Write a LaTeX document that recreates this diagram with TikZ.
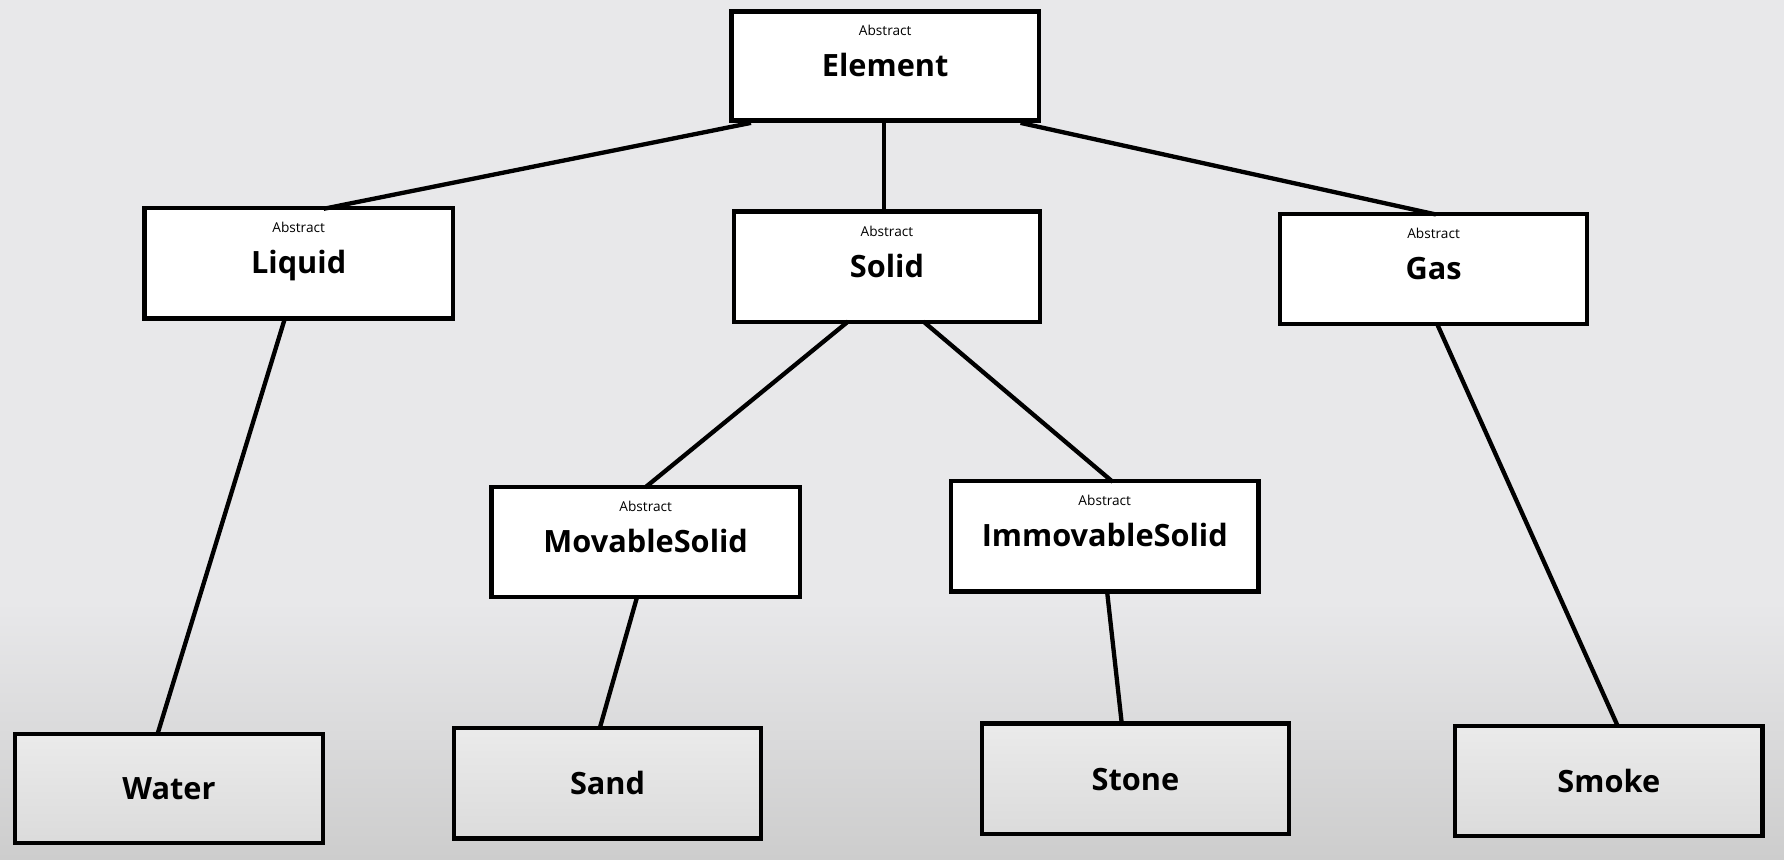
\documentclass[tikz,border=0pt]{standalone}
\usepackage{fontspec}
\setmainfont{Open Sans}
\usetikzlibrary{calc}
\definecolor{bg}{RGB}{232,232,234}
\definecolor{bgb}{RGB}{205,205,205}
\begin{document}
\begin{tikzpicture}[x=1pt,y=-1pt,
 box/.style={draw=black,line width=3.8pt,fill=white},
 leaf/.style={draw=black,line width=3.8pt,top color=white!92!black,bottom color=white!86!black},
 con/.style={line width=3.8pt}]
\useasboundingbox (0,0) rectangle (1568,755);
\fill[bg] (0,0) rectangle (1568,530);
\shade[top color=bg, bottom color=bgb] (0,529) rectangle (1568,755);
\newcommand\mybox[6]{%
 \draw[#6] (#2,#3) rectangle (#4,#5);
 \coordinate (#1) at ({(#2+#4)/2},{(#3+#5)/2});}
\mybox{e}{643}{10}{913}{106}{box}
\mybox{l}{127}{183}{398}{280}{box}
\mybox{s}{645}{186}{914}{283}{box}
\mybox{g}{1125}{188}{1395}{285}{box}
\mybox{m}{432}{428}{703}{525}{box}
\mybox{i}{836}{423}{1106}{520}{box}
\mybox{w}{13}{645}{284}{741}{leaf}
\mybox{sd}{399}{640}{669}{737}{leaf}
\mybox{sn}{863}{636}{1133}{733}{leaf}
\mybox{sm}{1279}{638}{1549}{735}{leaf}
\foreach \n/\t in {e/Element,l/Liquid,s/Solid,g/Gas,m/MovableSolid,i/ImmovableSolid}{
 \node[font=\fontsize{12}{12}\selectfont,anchor=base] (abs-\n) at ($(\n)+(0,-27)$) {Abstract};
 \node[font=\bfseries\fontsize{27}{30}\selectfont,anchor=base] (title-\n) at ($(\n)+(0,9)$) {\t};}
\foreach \n/\t in {w/Water,sd/Sand,sn/Stone,sm/Smoke}{
 \node[font=\bfseries\fontsize{27}{30}\selectfont,anchor=base] (title-\n) at ($(\n)+(0,10)$) {\t};}
\draw[con] ($(e)+(-118,50)$) -- ($(l)+(22,-48)$);
\draw[con] ($(e)+(-1,48)$) -- ($(s)+(-2.5,-48)$);
\draw[con] ($(e)+(119,50)$) -- ($(g)+(2,-48)$);
\draw[con] ($(l)+(-12,48)$) -- ($(w)+(-10,-48)$);
\draw[con] ($(s)+(-34,48)$) -- ($(m)+(-0.5,-48)$);
\draw[con] ($(s)+(32,48)$) -- ($(i)+(7,-48)$);
\draw[con] ($(g)+(3,48)$) -- ($(sm)+(8,-48)$);
\draw[con] ($(m)+(-7.5,48)$) -- ($(sd)+(-7,-48)$);
\draw[con] ($(i)+(2,48)$) -- ($(sn)+(-12,-48)$);
\end{tikzpicture}
\end{document}
